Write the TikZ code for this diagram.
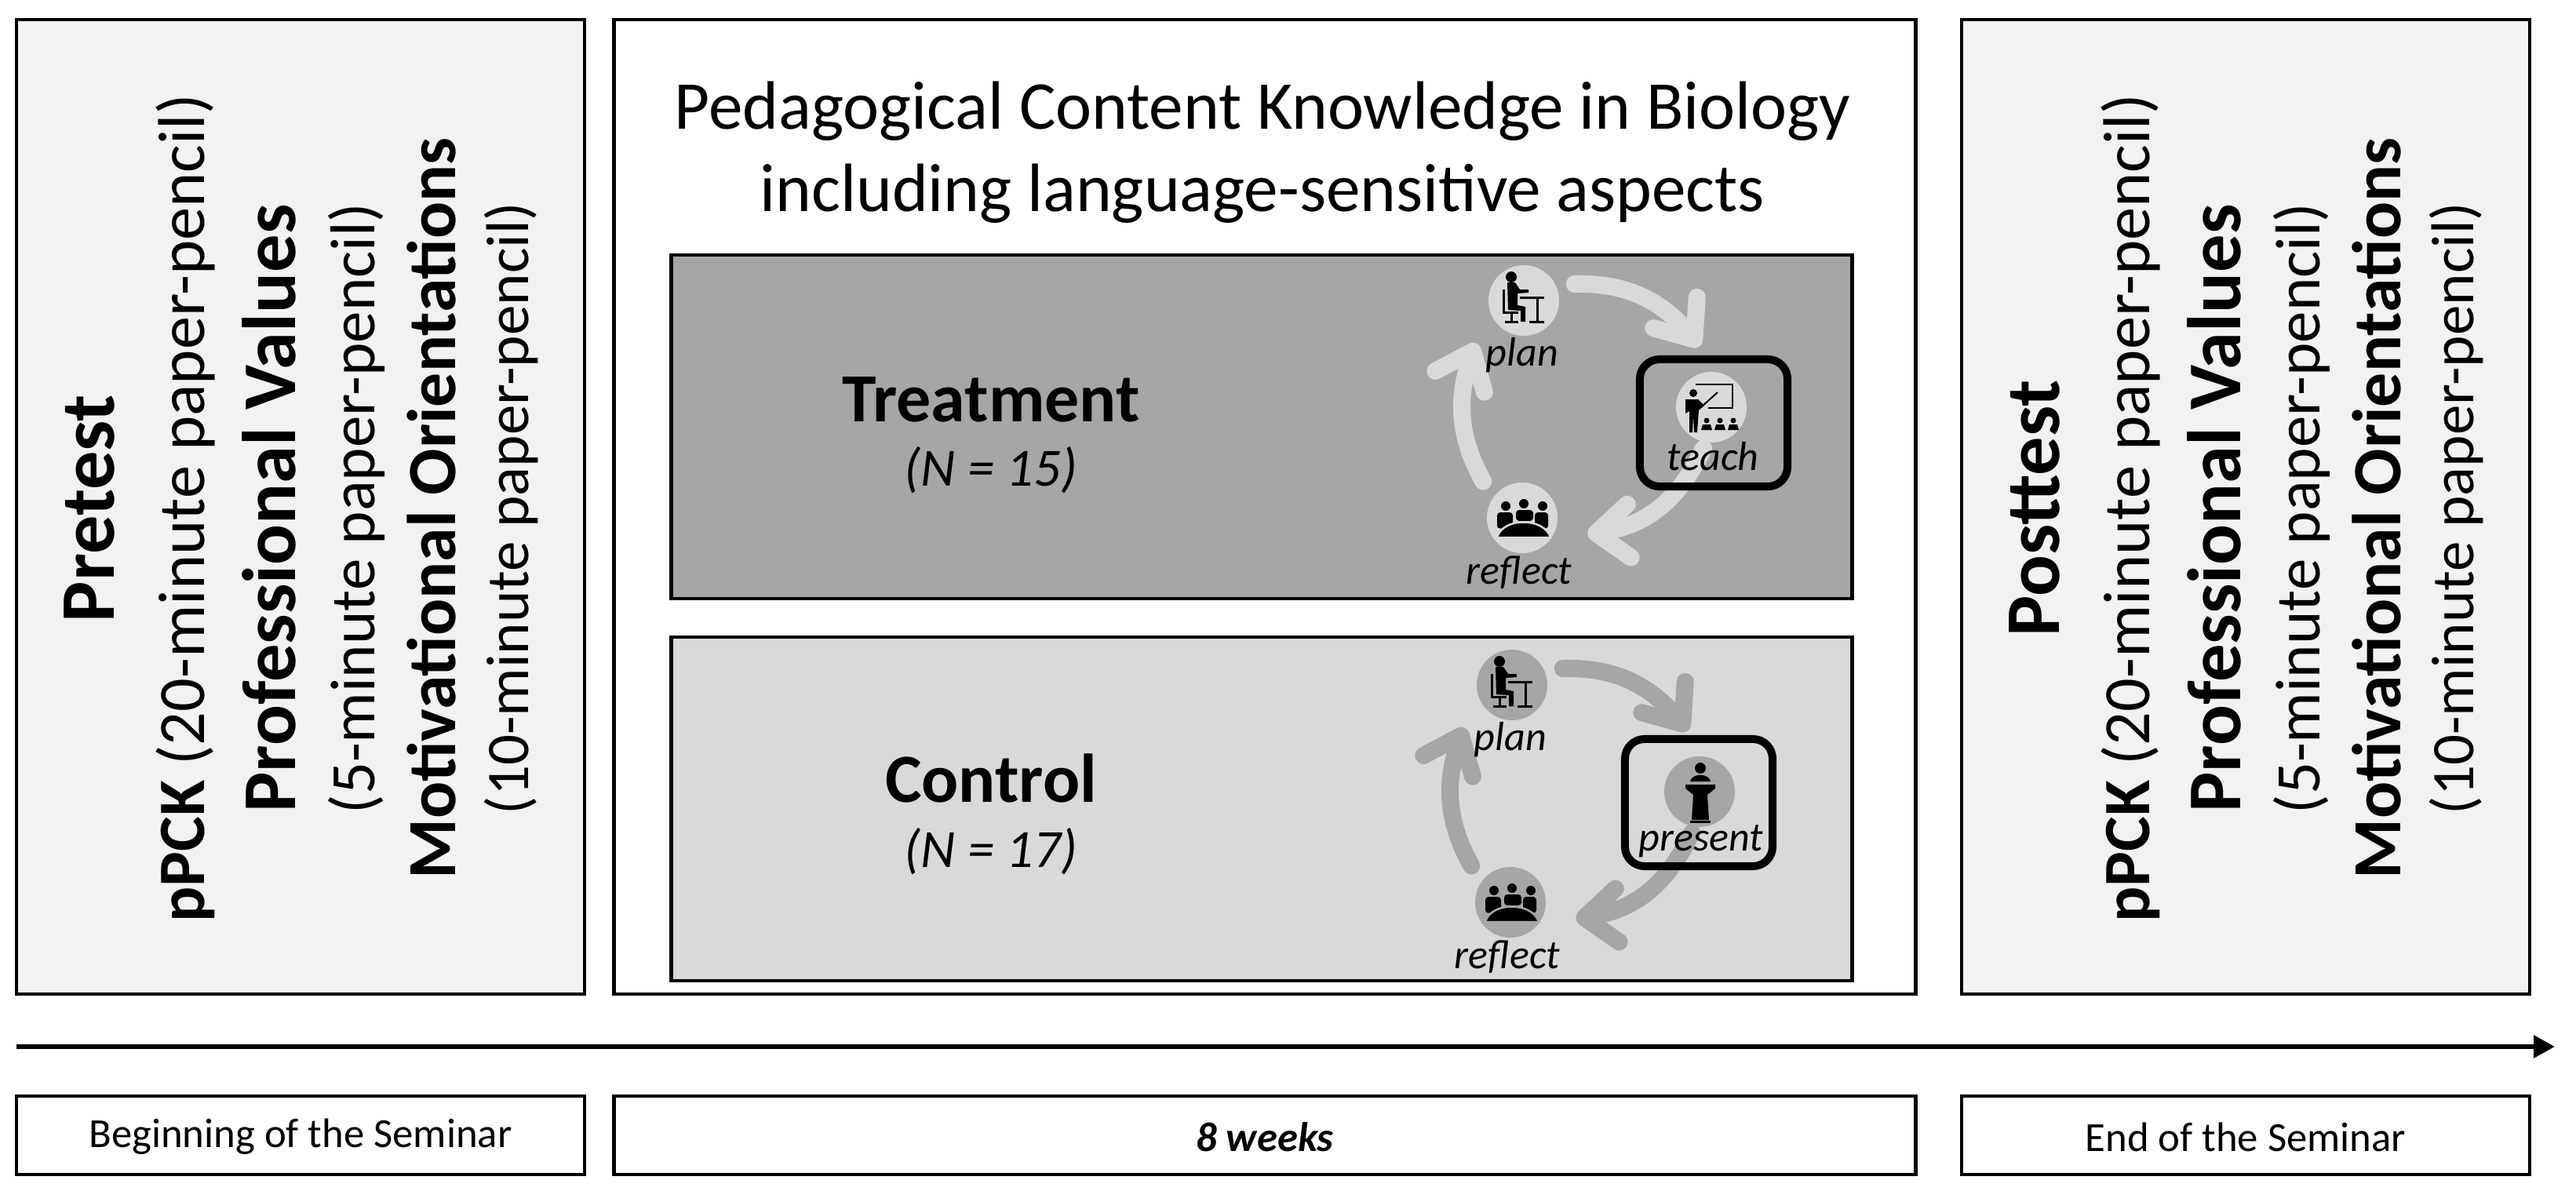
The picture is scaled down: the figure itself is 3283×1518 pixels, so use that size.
\documentclass[tikz,border=0pt]{standalone}
\usepackage{fontspec}
\setmainfont{Carlito}
\usetikzlibrary{arrows.meta,bending}
\colorlet{lightpanel}{black!5}
\colorlet{midgray}{black!35}
\colorlet{palegray}{black!15}
\tikzset{
	panel/.style={draw=black, line width=1.2pt, inner sep=0pt},
	sidehead/.style={rotate=90, anchor=base, font=\fontsize{28}{28}\selectfont\bfseries},
	sidebold/.style={rotate=90, anchor=base, font=\fontsize{#1}{#1}\selectfont\bfseries},
	sidetext/.style={rotate=90, anchor=base, font=\fontsize{#1}{#1}\selectfont},
	titletext/.style={font=\fontsize{24.8}{24.8}\selectfont},
	grouptext/.style={font=\fontsize{25}{25}\selectfont\bfseries},
	ntext/.style={font=\fontsize{19.5}{19.5}\selectfont\itshape},
	steptext/.style={font=\fontsize{14.8}{14.8}\selectfont\itshape},
	bartext/.style={font=\fontsize{15}{15}\selectfont},
	iconspot/.style={circle, inner sep=0pt, minimum size=0.9cm, outer sep=0.23cm},
	stepbox/.style={draw=black, rounded corners=0.25cm, line width=0.1cm, minimum width=1.88cm, minimum height=1.62cm},
	looparrow/.style={line width=0.22cm, line cap=round, -{Straight Barb[length=0.42cm, width=0.68cm, line width=0pt 1, round, flex=0]}},
	plan icon/.pic={
		\fill (-16,-30) circle (7);
		\fill (-21,-23) -- (-11,-23) -- (-5,-14) -- (6,-14) -- (6,-10) -- (-8,-9) -- (-8,6) -- (2,8) -- (2,27) -- (-4,27) -- (-4,13) -- (-20,12) -- cycle;
		\draw[line width=0.03cm] (-26,-14) -- (-26,15) -- (-7,15) (-16,15) -- (-16,27) (-24,27) -- (-7,27);
		\draw[line width=0.03cm] (-5,-4) -- (26,-4) (17,-4) -- (17,27) (7,27) -- (26,27);
	},
	teach icon/.pic={
		\draw[line width=0.025cm] (-20,-29) -- (27,-29) -- (27,1) -- (-4,1);
		\draw[line width=0.02cm] (-12,-1) -- (8,-19);
		\fill (-23,-18) circle (5);
		\fill (-33,-10) -- (-17,-10) -- (-11,-4) -- (-9,-2) -- (-16,4) -- (-18,32) -- (-22,32) -- (-23,10) -- (-24,32) -- (-28,32) -- (-28,5) -- (-33,8) -- cycle;
		\foreach \sx in {-6,11,28} {
			\fill (\sx,17) circle (3.5);
			\fill ({\sx-7},29) -- ({\sx-5},22) -- ({\sx+5},22) -- ({\sx+7},29) -- cycle;
		}
	},
	present icon/.pic={
		\fill (1,-30) circle (7);
		\fill (-12,-13) .. controls (-10,-24) and (12,-24) .. (14,-13) -- cycle;
		\fill (-18,-9) -- (20,-9) -- (20,-4) -- (10,4) -- (12,36) -- (-10,36) -- (-8,4) -- (-18,-4) -- cycle;
		\fill (-12,37) rectangle (14,40);
	},
	reflect icon/.pic={
		\fill (-21,-15) circle (6) (2,-18) circle (6) (26,-15) circle (6);
		\fill[rounded corners=0.04cm] (-32,14) -- (-32,-7) -- (-12,-7) -- (-12,12) -- cycle;
		\fill[rounded corners=0.04cm] (-8,4) -- (-8,-10) -- (14,-10) -- (14,4) -- cycle;
		\fill[rounded corners=0.04cm] (16,12) -- (16,-7) -- (33,-7) -- (33,14) -- cycle;
		\filldraw[draw=iconbg, line width=0.025cm] (-32,25) .. controls (-25,-1) and (28,-1) .. (36,25) -- cycle;
	}
}
\begin{document}
\begin{tikzpicture}[x=0.01cm,y=-0.01cm]
	\useasboundingbox (0,0) rectangle (3283,1518);
	% columns
	\node[panel, fill=lightpanel, minimum width=7.24cm, minimum height=12.42cm] (pretest) at (383,646) {};
	\node[panel, fill=white, minimum width=16.58cm, minimum height=12.42cm] (seminar) at (1612,646) {};
	\node[panel, fill=lightpanel, minimum width=7.24cm, minimum height=12.42cm] (posttest) at (2862,646) {};
	% side texts
	\foreach \d/\sidename/\side in {0/Pretest/pre, 2479/Posttest/post} {
		\node[sidehead] (\side head) at (145+\d,648) {\sidename};
		\node[sidetext=24] (\side pck) at (260+\d,648) {{\fontsize{24}{24}\selectfont\bfseries pPCK} (20-minute paper-pencil)};
		\node[sidebold=27.5] (\side values) at (376+\d,648) {Professional Values};
		\node[sidetext=23] (\side valuestime) at (477+\d,648) {(5-minute paper-pencil)};
		\node[sidebold=25] (\side motiv) at (580+\d,648) {Motivational Orientations};
		\node[sidetext=21.9] (\side motivtime) at (673+\d,648) {(10-minute paper-pencil)};
	}
	% title
	\node[titletext] (title1) at (1609,142) {Pedagogical Content Knowledge in Biology};
	\node[titletext] (title2) at (1609,247) {including language-sensitive aspects};
	% groups
	\node[panel, fill=midgray, minimum width=15.04cm, minimum height=4.38cm] (treatment) at (1608,544) {};
	\node[panel, fill=palegray, minimum width=15.04cm, minimum height=4.38cm] (control) at (1608,1031) {};
	\node[grouptext] (treatname) at (1263,509) {Treatment};
	\node[ntext] (treatn) at (1263,599) {(N = 15)};
	\node[grouptext] (controlname) at (1263,992) {Control};
	\node[ntext] (controln) at (1263,1085) {(N = 17)};
	% cycles
	\foreach \i/\dx/\dy/\bg/\fg/\mid/\midtext/\bx/\by in {1/0/0/palegray/palegray/teach/teach/2184/539, 2/-15/490/midgray/midgray/present/present/2165/1023} {
		\colorlet{iconbg}{\bg}
		\begin{scope}[shift={(\dx,\dy)}]
			\node[iconspot, fill=\bg] (plan\i) at (1942,383) {};
			\node[iconspot, fill=\bg] (mid\i) at (2181,519) {};
			\node[iconspot, fill=\bg] (reflect\i) at (1940,660) {};
			\draw[looparrow, draw=\fg] (plan\i.18) to[bend left=28] ([yshift=0.11cm]mid\i.103);
			\draw[looparrow, draw=\fg, shorten <=-0.15cm] (mid\i.-104) to[bend left=30] ([xshift=0.17cm,yshift=-0.05cm]reflect\i.-13);
			\draw[looparrow, draw=\fg] (reflect\i.137) to[bend left=26] ([xshift=-0.1cm,yshift=-0.09cm]plan\i.222);
			\pic at (plan\i) {plan icon};
			\pic at (mid\i) {\mid\space icon};
			\pic at (reflect\i) {reflect icon};
			\node[steptext] (planlabel\i) at (1940,453) {plan};
			\node[steptext] (midlabel\i) at (2183,582) {\midtext};
			\node[steptext] (reflectlabel\i) at (1936,730) {reflect};
		\end{scope}
		\node[stepbox] (box\i) at (\bx,\by) {};
	}
	% time line
	\coordinate (timestart) at (21,1334);
	\coordinate (timeend) at (3256,1334);
	\draw[line width=0.06cm, -{Stealth[length=0.27cm, width=0.28cm, inset=0pt]}] (timestart) -- (timeend);
	\node[panel, minimum width=7.24cm, minimum height=1cm] (beginbar) at (383,1447) {};
	\node[panel, minimum width=16.58cm, minimum height=1cm] (weeksbar) at (1612,1447) {};
	\node[panel, minimum width=7.24cm, minimum height=1cm] (endbar) at (2862,1447) {};
	\node[bartext] (begintext) at (383,1449) {Beginning of the Seminar};
	\node[bartext, font=\fontsize{15}{15}\selectfont\bfseries\itshape] (weekstext) at (1612,1449) {8 weeks};
	\node[bartext] (endtext) at (2862,1449) {End of the Seminar};
\end{tikzpicture}
\end{document}
